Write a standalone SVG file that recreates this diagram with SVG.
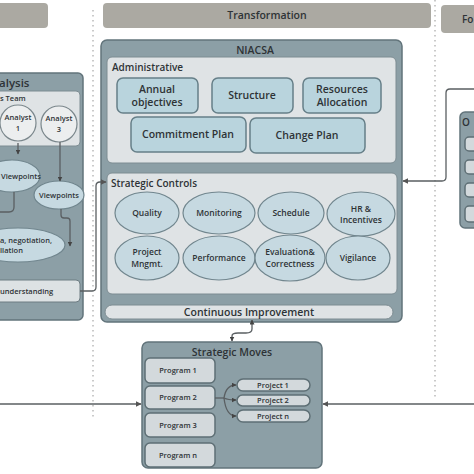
<svg xmlns="http://www.w3.org/2000/svg" width="474" height="474" viewBox="0 0 474 474">
<defs>
<marker id="arr" viewBox="0 0 10 10" refX="9" refY="5" markerWidth="6" markerHeight="6" orient="auto-start-reverse" markerUnits="userSpaceOnUse"><path d="M0,0 L10,5 L0,10 z" fill="#555"/></marker>
<marker id="arrs" viewBox="0 0 10 10" refX="9" refY="5" markerWidth="5" markerHeight="5" orient="auto-start-reverse" markerUnits="userSpaceOnUse"><path d="M0,0 L10,5 L0,10 z" fill="#444"/></marker>
</defs>
<style>
text{font-family:"Open Sans","Noto Sans","DejaVu Sans",sans-serif;fill:#2e3336;font-weight:600}
.hdr{fill:#aba9a2}
.panel{fill:#8c9fa6;stroke:#62747b;stroke-width:1.5}
.inner{fill:#dfe3e5;stroke:#7d8c92;stroke-width:1}
.box{fill:#b9d4dd;stroke:#667f88;stroke-width:1.5}
.ell{fill:#c6d9e1;stroke:#71868e;stroke-width:1.2}
.prog{fill:#d3d9dc;stroke:#5e6f75;stroke-width:1.5}
.lc{fill:#dde2e4;stroke:#6d7c82;stroke-width:1}
.circ{fill:#eceeef;stroke:#7b878c;stroke-width:1.2}
.dot{stroke:#b9b9b9;stroke-width:1.5;stroke-dasharray:1.5 3.5;fill:none}
.con{stroke:#5a5f62;stroke-width:1.3;fill:none}
.t11{font-size:10.5px;text-anchor:middle}
.t9{font-size:8.5px;text-anchor:middle}
.t8{font-size:7.5px;text-anchor:middle}
</style>
<rect width="474" height="474" fill="#ffffff"/>

<g id="headers">
<rect class="hdr" x="-10" y="3" width="58" height="25" rx="4"/>
<rect class="hdr" x="103" y="3" width="328" height="25" rx="4"/>
<text class="t11" x="267" y="19" font-size="10">Transformation</text>
<rect class="hdr" x="441" y="5" width="45" height="28" rx="4"/>
<text x="462" y="23" font-size="10">Fo</text>
</g>

<g id="dividers">
<line class="dot" x1="93" y1="10" x2="93" y2="418"/>
<line class="dot" x1="435" y1="0" x2="435" y2="400"/>
</g>

<g id="analysis">
<rect class="panel" x="-10" y="73" width="93" height="247" rx="5"/>
<text x="-1" y="87" font-size="11.5">alysis</text>
<rect class="inner" x="-10" y="91" width="90" height="55" rx="4" fill="#cdd4d7"/>
<text x="0" y="101" font-size="7.5">s Team</text>
<g id="analyst1"><circle class="circ" cx="18" cy="123" r="18"/><text class="t8" x="18" y="120">Analyst</text><text class="t8" x="18" y="131">1</text></g>
<g id="analyst3"><circle class="circ" cx="59" cy="124" r="18"/><text class="t8" x="59" y="121">Analyst</text><text class="t8" x="59" y="132">3</text></g>
<g id="viewpoints1"><ellipse class="ell" cx="12" cy="176" rx="28" ry="16" fill="#d5dcdf"/><text x="1" y="179" font-size="7.5">Viewpoints</text></g>
<g id="viewpoints2"><ellipse class="ell" cx="59" cy="195" rx="25" ry="14" fill="#d5dcdf"/><text class="t8" x="59" y="198">Viewpoints</text></g>
<g id="negotiation"><ellipse class="ell" cx="18" cy="245" rx="47" ry="17" fill="#d5dcdf"/><text x="0" y="243" font-size="7.5">a, negotiation,</text><text x="0" y="253" font-size="7.5">llation</text></g>
<g id="understanding"><rect class="lc" x="-10" y="280" width="90" height="22" rx="4"/><text x="0" y="294" font-size="7.5">understanding</text></g>
</g>

<g id="niacsa">
<rect class="panel" x="101" y="40" width="301" height="282" rx="6"/>
<text class="t11" x="255" y="54" font-size="10">NIACSA</text>
</g>
<g id="administrative">
<rect class="inner" x="107" y="57" width="289" height="106" rx="5"/>
<text x="112" y="71" font-size="10">Administrative</text>
</g>
<g id="annual"><rect class="box" x="117" y="78" width="81" height="35" rx="6"/><text class="t11" x="157" y="93" font-size="10">Annual</text><text class="t11" x="157" y="106" font-size="10">objectives</text></g>
<g id="structure"><rect class="box" x="212" y="78" width="81" height="35" rx="6"/><text class="t11" x="252" y="99" font-size="10">Structure</text></g>
<g id="resources"><rect class="box" x="303" y="78" width="78" height="35" rx="6"/><text class="t11" x="342" y="93" font-size="10">Resources</text><text class="t11" x="342" y="106" font-size="10">Allocation</text></g>
<g id="commitment"><rect class="box" x="131" y="117" width="115" height="35" rx="6"/><text class="t11" x="188" y="138" font-size="10">Commitment Plan</text></g>
<g id="change"><rect class="box" x="250" y="118" width="115" height="35" rx="6"/><text class="t11" x="307" y="139" font-size="10">Change Plan</text></g>

<g id="strategic-controls">
<rect class="inner" x="107" y="173" width="290" height="121" rx="5"/>
<text x="111" y="187" font-size="10">Strategic Controls</text>
</g>
<g id="quality"><ellipse class="ell" cx="147" cy="213" rx="32" ry="21"/><text class="t9" x="147" y="216">Quality</text></g>
<g id="monitoring"><ellipse class="ell" cx="219" cy="213" rx="36" ry="21"/><text class="t9" x="219" y="216">Monitoring</text></g>
<g id="schedule"><ellipse class="ell" cx="291" cy="213" rx="33" ry="21"/><text class="t9" x="291" y="216">Schedule</text></g>
<g id="hr"><ellipse class="ell" cx="361" cy="214" rx="34" ry="22"/><text class="t9" x="361" y="212">HR &amp;</text><text class="t9" x="361" y="223">Incentives</text></g>
<g id="project-mngmt"><ellipse class="ell" cx="147" cy="258" rx="32" ry="22"/><text class="t9" x="147" y="255">Project</text><text class="t9" x="147" y="267">Mngmt.</text></g>
<g id="performance"><ellipse class="ell" cx="219" cy="258" rx="36" ry="22"/><text class="t9" x="219" y="261">Performance</text></g>
<g id="evaluation"><ellipse class="ell" cx="290" cy="258" rx="35" ry="23"/><text class="t9" x="290" y="255">Evaluation&amp;</text><text class="t9" x="290" y="267">Correctness</text></g>
<g id="vigilance"><ellipse class="ell" cx="358" cy="258" rx="32" ry="22"/><text class="t9" x="358" y="261">Vigilance</text></g>
<g id="continuous"><rect class="inner" x="105" y="305" width="288" height="14" rx="7"/><text class="t11" x="249" y="316" font-size="10">Continuous Improvement</text></g>

<g id="strategic-moves">
<rect class="panel" x="142" y="342" width="180" height="126" rx="6" fill="#7f98a0"/>
<text class="t11" x="232" y="356" font-size="10.5">Strategic Moves</text>
</g>
<g id="program1"><rect class="prog" x="145" y="358" width="70" height="25" rx="5"/><text class="t8" x="178" y="373">Program 1</text></g>
<g id="program2"><rect class="prog" x="145" y="386" width="70" height="23" rx="5"/><text class="t8" x="178" y="400">Program 2</text></g>
<g id="program3"><rect class="prog" x="145" y="413" width="70" height="24" rx="5"/><text class="t8" x="178" y="428">Program 3</text></g>
<g id="programn"><rect class="prog" x="145" y="443" width="70" height="24" rx="5"/><text class="t8" x="178" y="458">Program n</text></g>
<g id="project1"><rect class="prog" x="237" y="379" width="73" height="12" rx="6"/><text class="t8" x="273" y="388">Project 1</text></g>
<g id="project2"><rect class="prog" x="237" y="395" width="73" height="11" rx="5.5"/><text class="t8" x="273" y="403">Project 2</text></g>
<g id="projectn"><rect class="prog" x="237" y="410" width="73" height="12" rx="6"/><text class="t8" x="273" y="419">Project n</text></g>

<g id="right-panel">
<rect class="panel" x="460" y="112" width="30" height="116" rx="5"/>
<text x="462" y="126" font-size="10">O</text>
<rect class="prog" x="465" y="137" width="20" height="14" rx="4"/>
<rect class="prog" x="465" y="160" width="20" height="14" rx="4"/>
<rect class="prog" x="465" y="183" width="20" height="14" rx="4"/>
<rect class="prog" x="465" y="206" width="20" height="16" rx="4"/>
</g>

<g id="connectors">
<path class="con" d="M18,143 L18,154" marker-end="url(#arrs)"/>
<path class="con" d="M60,142 L60,181" marker-end="url(#arrs)"/>
<path class="con" d="M14,192 L14,207 Q14,212 9,212 L-5,212"/>
<path class="con" d="M61,209 L61,215 Q61,218 64,218 L67,218 Q70,218 70,221 L70,246" marker-end="url(#arrs)"/>
<path class="con" d="M80,291 L92,291 Q96,291 96,287 L96,186 Q96,182 100,182 L106,182" marker-end="url(#arr)"/>
<path class="con" d="M474,89 L450,89 Q446,89 446,93 L446,177 Q446,181 442,181 L403,181" marker-end="url(#arr)"/>
<path class="con" d="M0,404 L141,404" marker-end="url(#arr)"/>
<path class="con" d="M474,404 L323,404" marker-end="url(#arr)"/>
<path class="con" d="M232,341 L232,336 Q232,333 238,333 L246,333 Q252,333 252,329 L252,320" marker-start="url(#arrs)" marker-end="url(#arrs)"/>
<path class="con" d="M215,398 L224,398"/>
<path class="con" d="M224,398 Q226,385 236,385" marker-end="url(#arrs)"/>
<path class="con" d="M224,398 Q228,400 236,400" marker-end="url(#arrs)"/>
<path class="con" d="M224,398 Q226,416 236,416" marker-end="url(#arrs)"/>
</g>
</svg>
